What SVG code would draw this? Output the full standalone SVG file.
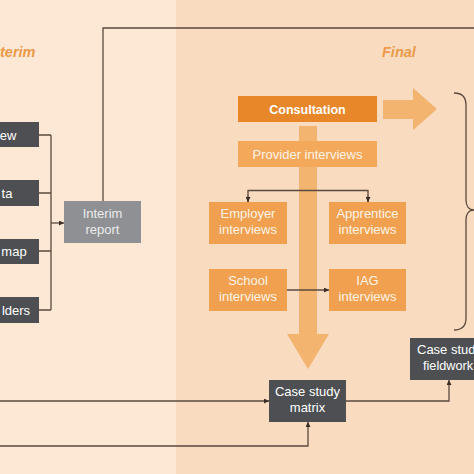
<svg xmlns="http://www.w3.org/2000/svg" width="474" height="474" viewBox="0 0 474 474">
<defs>
<style>
.dark{fill:#4d4f53}
.grey{fill:#8e9093}
.org{fill:#f0a04e}
.t{font-family:"Liberation Sans",Arial,sans-serif;font-size:13px;fill:#ffffff;text-anchor:middle}
.tl{font-family:"Liberation Sans",Arial,sans-serif;font-size:13px;fill:#fff4e8;text-anchor:middle}
.title{font-family:"Liberation Sans",Arial,sans-serif;font-size:14.5px;font-style:italic;font-weight:bold;fill:#eb9a48}
.ln{fill:none;stroke:#5a4a3e;stroke-width:1.3}
</style>
<marker id="ah" viewBox="0 0 8 8" refX="8" refY="4" markerWidth="5" markerHeight="5" orient="auto" markerUnits="userSpaceOnUse">
<path d="M0,0 L8,4 L0,8 z" fill="#3a2e26"/>
</marker>
</defs>
<rect x="0" y="0" width="176" height="474" fill="#fde8d6"/>
<rect x="176" y="0" width="298" height="474" fill="#f9dbc0"/>
<text class="title" x="0" y="57">terim</text>
<text class="title" x="382" y="57">Final</text>

<g id="big-arrows">
<rect x="299" y="126" width="18" height="209" fill="#f2b46f"/>
<path d="M287,334 L329,334 L308,369 z" fill="#f2b46f"/>
<path d="M383,100 L413,100 L413,88 L437,109 L413,130 L413,119 L383,119 z" fill="#f2b46f"/>
</g>

<g id="connectors">
<path class="ln" d="M103,201 V28 H474"/>
<path class="ln" d="M39,135 H51 M39,193 H51 M39,251 H51 M39,310 H51 M51,135 V310"/>
<path class="ln" d="M51,223 H64" marker-end="url(#ah)"/>
<path class="ln" d="M248,202 V190.5 H368 V202" />
<path class="ln" d="M248,196 V202" marker-end="url(#ah)"/>
<path class="ln" d="M368,196 V202" marker-end="url(#ah)"/>
<path class="ln" d="M287,290 H329" marker-end="url(#ah)"/>
<path class="ln" d="M0,401 H269" marker-end="url(#ah)"/>
<path class="ln" d="M0,446 H308 V422" marker-end="url(#ah)"/>
<path class="ln" d="M346,401 H449 V380" marker-end="url(#ah)"/>
<path class="ln" d="M454,93 C462,93 466,97 466,105 V200 C466,206 469,210 474,210 M474,210 C469,210 466,214 466,220 V318 C466,326 462,330 454,330"/>
</g>

<g id="n-ew"><rect class="dark" x="-40" y="122" width="79" height="25"/><text class="t" x="8" y="139.5">ew</text></g>
<g id="n-ta"><rect class="dark" x="-40" y="180" width="79" height="26"/><text class="t" x="7" y="197.5">ta</text></g>
<g id="n-map"><rect class="dark" x="-40" y="239" width="79" height="25"/><text class="t" x="14" y="256">map</text></g>
<g id="n-lders"><rect class="dark" x="-40" y="297" width="79" height="26"/><text class="t" x="16" y="314.5">lders</text></g>
<g id="n-interim"><rect class="grey" x="64" y="201" width="77" height="42"/><text class="t" x="102.5" y="218" style="fill:#ececec">Interim</text><text class="t" x="102.5" y="234" style="fill:#ececec">report</text></g>

<g id="n-consultation"><rect x="238" y="96" width="139" height="26" fill="#e8862a"/><text class="t" x="307.5" y="113.5" style="font-weight:bold;font-size:12.5px">Consultation</text></g>
<g id="n-provider"><rect x="238" y="141" width="139" height="26" fill="#f3a85a"/><text class="tl" x="307.5" y="158.5">Provider interviews</text></g>
<g id="n-employer"><rect class="org" x="209" y="202" width="78" height="42"/><text class="tl" x="248" y="218">Employer</text><text class="tl" x="248" y="234">interviews</text></g>
<g id="n-apprentice"><rect class="org" x="329" y="202" width="77" height="42"/><text class="tl" x="367.5" y="218">Apprentice</text><text class="tl" x="367.5" y="234">interviews</text></g>
<g id="n-school"><rect class="org" x="209" y="269" width="78" height="42"/><text class="tl" x="248" y="285">School</text><text class="tl" x="248" y="301">interviews</text></g>
<g id="n-iag"><rect class="org" x="329" y="269" width="77" height="42"/><text class="tl" x="367.5" y="285">IAG</text><text class="tl" x="367.5" y="301">interviews</text></g>

<g id="n-matrix"><rect class="dark" x="269" y="380" width="77" height="42"/><text class="t" x="307.5" y="396">Case study</text><text class="t" x="307.5" y="412">matrix</text></g>
<g id="n-fieldwork"><rect class="dark" x="410" y="338" width="80" height="42"/><text class="t" x="417" y="354" style="text-anchor:start">Case stud</text><text class="t" x="423" y="370" style="text-anchor:start" textLength="50" lengthAdjust="spacingAndGlyphs">fieldwork</text></g>
</svg>
